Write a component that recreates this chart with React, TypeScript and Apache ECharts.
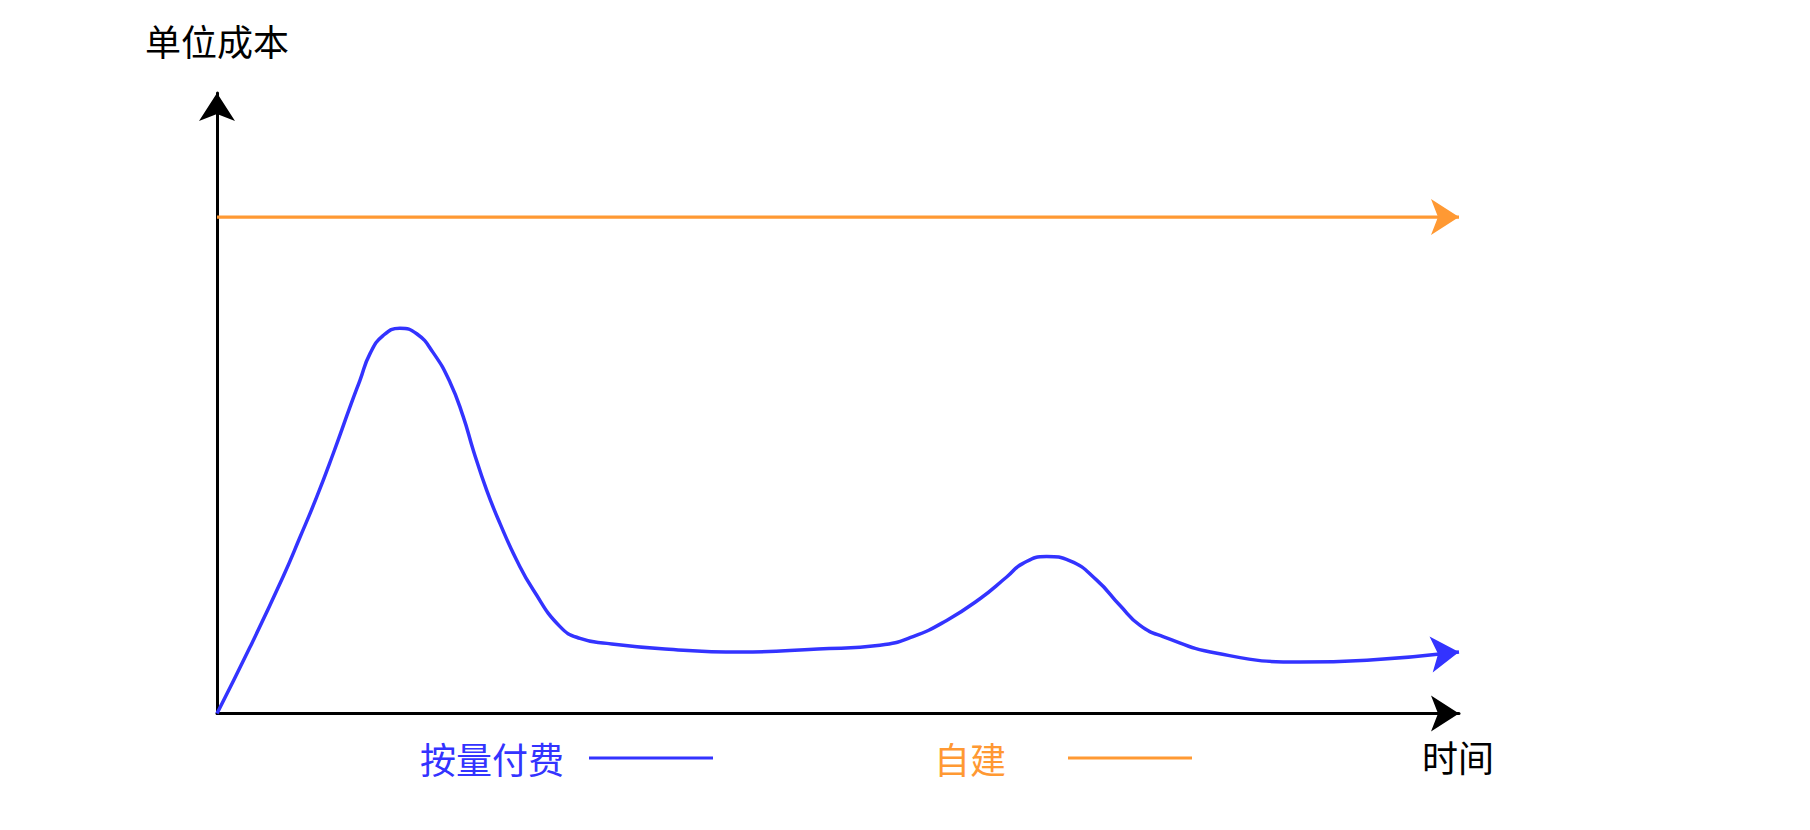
import React, { useEffect, useRef } from 'react';
import * as echarts from 'echarts';

// 时间轴上的取样点（0~100）
const timeX = [
  0, 2.66, 5.31, 6.68, 8.03, 9.36, 10.71, 11.51, 12.32, 13.37, 14.73, 16.08, 17.39, 18.76,
  19.83, 20.64, 21.71, 22.79, 24.13, 25.47, 27.62, 29.23, 31.4, 36.07, 42.19, 48.39, 53.38,
  56.04, 58.75, 61.43, 63.58, 64.9, 66.8, 68.68, 70.83, 72.71, 74.32, 76.17, 80.52,
  87.2, 92.59, 100,
];
// 按量付费的单位成本
const payPerUse = [
  0, 10.7, 22.0, 28.4, 34.9, 41.9, 49.4, 53.7, 58.0, 60.9, 62.1, 61.2, 58.2, 53.4,
  47.8, 42.4, 36.0, 30.6, 24.7, 19.9, 14.0, 12.1, 11.3, 10.4, 9.9, 10.4, 11.0,
  12.4, 15.0, 18.5, 22.0, 24.2, 25.3, 24.6, 21.5, 17.4, 14.2, 12.4, 9.7,
  8.3, 8.6, 9.9,
];
// 自建的单位成本
const selfBuiltX = [0, 100];
const selfBuilt = [80, 80];

const seriesNames = ['按量付费', '自建'];
const xAxisName = '时间';
const yAxisName = '单位成本';

const BLUE = '#3333ff';
const ORANGE = '#ff9933';
const FONT = '"Noto Sans CJK SC", "Noto Sans", sans-serif';

const withArrow = (xs: number[], ys: number[], rotate: number) =>
  xs.map((x, i) =>
    i === xs.length - 1
      ? { value: [x, ys[i]], symbol: 'arrow', symbolSize: [27, 28], symbolRotate: rotate }
      : [x, ys[i]]
  );

const App: React.FC = () => {
  const chartRef = useRef<HTMLDivElement>(null);

  useEffect(() => {
    if (!chartRef.current) return;
    const myChart = echarts.init(chartRef.current, undefined, { renderer: 'svg' });

    const axisCommon = {
      type: 'value',
      min: 0,
      max: 100,
      axisLine: {
        show: true,
        symbol: ['none', 'arrow'],
        symbolSize: [27, 28],
        lineStyle: { color: '#000', width: 3 },
      },
      axisTick: { show: false },
      axisLabel: { show: false },
      splitLine: { show: false },
    };

    const option = {
      animation: false,
      textStyle: { fontFamily: FONT },
      grid: { left: 217, right: 351, top: 93, bottom: 116.5 },
      xAxis: {
        ...axisCommon,
        name: xAxisName,
        nameLocation: 'end',
        nameGap: -1,
        nameTextStyle: {
          color: '#000',
          fontSize: 36,
          fontFamily: FONT,
          align: 'center',
          verticalAlign: 'top',
          lineHeight: 36,
          padding: [24, 0, 0, 0],
        },
      },
      yAxis: {
        ...axisCommon,
        name: yAxisName,
        nameLocation: 'end',
        nameGap: 35,
        nameTextStyle: { color: '#000', fontSize: 36, fontFamily: FONT, lineHeight: 36 },
      },
      legend: {
        left: 420,
        top: 740,
        padding: 0,
        align: 'right',
        icon: 'rect',
        itemWidth: 124,
        itemHeight: 3,
        itemGap: 221,
        selectedMode: false,
        textStyle: { fontSize: 36, fontFamily: FONT, lineHeight: 36 },
        data: [
          { name: seriesNames[0], textStyle: { color: BLUE, padding: [0, 20, 0, 0] } },
          { name: seriesNames[1], textStyle: { color: ORANGE, padding: [0, 57, 0, 0] } },
        ],
      },
      series: [
        {
          name: seriesNames[0],
          type: 'line',
          smooth: 0.5,
          clip: false,
          symbol: 'none',
          color: BLUE,
          itemStyle: { color: BLUE, borderWidth: 0 },
          lineStyle: { color: BLUE, width: 3.5 },
          data: withArrow(timeX, payPerUse, -85),
        },
        {
          name: seriesNames[1],
          type: 'line',
          clip: false,
          symbol: 'none',
          color: ORANGE,
          itemStyle: { color: ORANGE, borderWidth: 0 },
          lineStyle: { color: ORANGE, width: 3.3 },
          data: withArrow(selfBuiltX, selfBuilt, -90),
        },
      ],
    };

    myChart.setOption(option as any);

    return () => {
      myChart.dispose();
    };
  }, []);

  return (
    <div
      ref={chartRef}
      style={{ position: 'fixed', left: 0, top: 0, width: 1810, height: 830, background: '#fff' }}
    />
  );
};

export default App;
